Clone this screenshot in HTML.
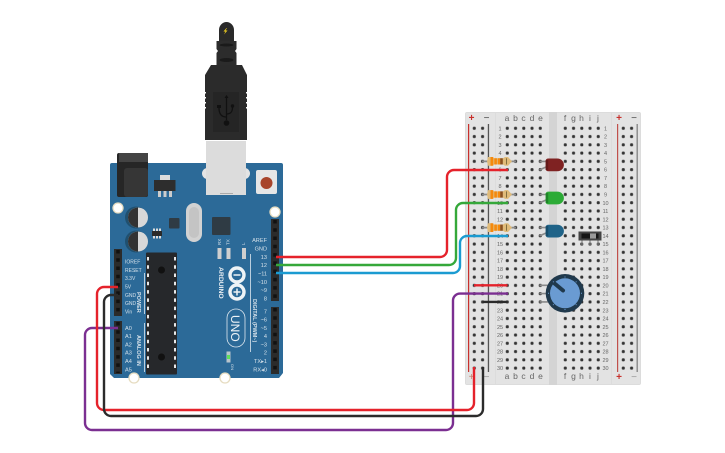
<!DOCTYPE html>
<html><head><meta charset="utf-8"><style>
html,body{margin:0;padding:0;background:#fff}
svg{display:block;filter:blur(.3px)}
text{font-family:"Liberation Sans",sans-serif}
.n text{font-size:5.5px;fill:#666;text-anchor:middle}
.l text{font-size:8.5px;fill:#666;text-anchor:middle}
.pl text{font-size:5px;fill:#d4e0e9;text-anchor:start}
.pr text{font-size:5.6px;fill:#d4e0e9;text-anchor:end}
.w{fill:none;stroke-width:2.4;stroke-linejoin:round}
</style></head><body>
<svg width="725" height="453" viewBox="0 0 725 453" xmlns="http://www.w3.org/2000/svg">
<defs>
<pattern id="hl" x="470.2" y="124.2" width="8.27" height="8.27" patternUnits="userSpaceOnUse"><rect x="2.6" y="2.6" width="3" height="3" rx="1" fill="#333"/></pattern>
<pattern id="hr" x="619.2" y="124.2" width="8.27" height="8.27" patternUnits="userSpaceOnUse"><rect x="2.6" y="2.6" width="3" height="3" rx="1" fill="#333"/></pattern>
<pattern id="hm" x="503.2" y="124.2" width="8.24" height="8.27" patternUnits="userSpaceOnUse"><rect x="2.6" y="2.6" width="3" height="3" rx="1" fill="#333"/></pattern>
<pattern id="hn" x="561.2" y="124.2" width="8.24" height="8.27" patternUnits="userSpaceOnUse"><rect x="2.6" y="2.6" width="3" height="3" rx="1" fill="#333"/></pattern>
</defs>

<!-- breadboard -->
<rect x="465" y="112" width="176" height="273" rx="2" fill="#dcdcdc"/>
<rect x="466" y="113" width="29" height="271" fill="#e3e3e3"/>
<rect x="496" y="113" width="54" height="271" fill="#e3e3e3"/>
<rect x="556" y="113" width="55" height="271" fill="#e3e3e3"/>
<rect x="612" y="113" width="28" height="271" fill="#e3e3e3"/>
<rect x="549" y="112" width="8" height="273" fill="#d4d4d4"/>
<rect x="468" y="124" width="1.2" height="248" fill="#c8302c"/>
<rect x="487.800" y="124" width="1.300" height="248" fill="#555"/>
<rect x="617" y="124" width="1.200" height="248" fill="#c0504c"/>
<rect x="636.500" y="124" width="1.400" height="248" fill="#888"/>
<rect x="470.2" y="124.2" width="16.6" height="248" fill="url(#hl)"/>
<rect x="619.2" y="124.2" width="16.6" height="248" fill="url(#hr)"/>
<rect x="503.2" y="124.2" width="41.2" height="248" fill="url(#hm)"/>
<rect x="561.2" y="124.2" width="41.2" height="248" fill="url(#hn)"/>

<g class="l">
<text x="471.5" y="121" style="fill:#c8302c;font-size:10px;font-weight:bold">+</text><text x="486.5" y="121" style="fill:#444;font-size:10px">−</text>
<text x="619" y="121" style="fill:#c8302c;font-size:10px;font-weight:bold">+</text><text x="634" y="121" style="fill:#444;font-size:10px">−</text>
<text x="471.5" y="380" style="fill:#c8806c;font-size:10px">+</text><text x="486.5" y="380" style="fill:#999;font-size:10px">−</text>
<text x="619" y="380" style="fill:#c8302c;font-size:10px;font-weight:bold">+</text><text x="634" y="380" style="fill:#999;font-size:10px">−</text>
<text x="507" y="121">a</text><text x="515.5" y="121">b</text><text x="523.5" y="121">c</text><text x="532" y="121">d</text><text x="540.5" y="121">e</text>
<text x="565" y="121">f</text><text x="573.5" y="121">g</text><text x="581.5" y="121">h</text><text x="590" y="121">i</text><text x="598" y="121">j</text>
<text x="507" y="379">a</text><text x="515.5" y="379">b</text><text x="523.5" y="379">c</text><text x="532" y="379">d</text><text x="540.5" y="379">e</text>
<text x="565" y="379">f</text><text x="573.5" y="379">g</text><text x="581.5" y="379">h</text><text x="590" y="379">i</text><text x="598" y="379">j</text>
</g>
<g class="n">
<text x="500" y="130.3">1</text><text x="500" y="138.6">2</text><text x="500" y="146.9">3</text><text x="500" y="155.1">4</text><text x="500" y="163.4">5</text><text x="500" y="171.7">6</text><text x="500" y="180">7</text><text x="500" y="188.2">8</text><text x="500" y="196.5">9</text><text x="500" y="204.8">10</text><text x="500" y="213">11</text><text x="500" y="221.3">12</text><text x="500" y="229.6">13</text><text x="500" y="237.8">14</text><text x="500" y="246.1">15</text><text x="500" y="254.4">16</text><text x="500" y="262.6">17</text><text x="500" y="270.9">18</text><text x="500" y="279.2">19</text><text x="500" y="287.5">20</text><text x="500" y="295.7">21</text><text x="500" y="304">22</text><text x="500" y="312.3">23</text><text x="500" y="320.5">24</text><text x="500" y="328.8">25</text><text x="500" y="337.1">26</text><text x="500" y="345.4">27</text><text x="500" y="353.6">28</text><text x="500" y="361.9">29</text><text x="500" y="370.2">30</text>
<text x="605.5" y="130.3">1</text><text x="605.5" y="138.6">2</text><text x="605.5" y="146.9">3</text><text x="605.5" y="155.1">4</text><text x="605.5" y="163.4">5</text><text x="605.5" y="171.7">6</text><text x="605.5" y="180">7</text><text x="605.5" y="188.2">8</text><text x="605.5" y="196.5">9</text><text x="605.5" y="204.8">10</text><text x="605.5" y="213">11</text><text x="605.5" y="221.3">12</text><text x="605.5" y="229.6">13</text><text x="605.5" y="237.8">14</text><text x="605.5" y="246.1">15</text><text x="605.5" y="254.4">16</text><text x="605.5" y="262.6">17</text><text x="605.5" y="270.9">18</text><text x="605.5" y="279.2">19</text><text x="605.5" y="287.5">20</text><text x="605.5" y="295.7">21</text><text x="605.5" y="304">22</text><text x="605.5" y="312.3">23</text><text x="605.5" y="320.5">24</text><text x="605.5" y="328.8">25</text><text x="605.5" y="337.1">26</text><text x="605.5" y="345.4">27</text><text x="605.5" y="353.6">28</text><text x="605.5" y="361.9">29</text><text x="605.5" y="370.2">30</text>
</g>

<!-- resistors -->
<path d="M482 161.4H516M482 194.5H516M482 227.6H516" stroke="#8a8a8a" stroke-width="1.8"/>
<path d="M488 157h4l2 1.300h9l2-1.300h3l4 4.400-4 4.400h-3l-2-1.300h-9l-2 1.300h-4l-1-4.400z" fill="#e0bb7a"/>
<path d="M488 190.100h4l2 1.300h9l2-1.300h3l4 4.400-4 4.400h-3l-2-1.300h-9l-2 1.300h-4l-1-4.400z" fill="#e0bb7a"/>
<path d="M488 223.200h4l2 1.300h9l2-1.300h3l4 4.400-4 4.400h-3l-2-1.300h-9l-2 1.300h-4l-1-4.400z" fill="#e0bb7a"/>
<path d="M490.500 157h2.800v8.800h-2.800zM494.300 158.300h2.600v6.200h-2.600zM497.800 158.300h2.400v6.200h-2.400z" fill="#f5890d"/>
<path d="M490.500 190.100h2.800v8.800h-2.800zM494.300 191.400h2.600v6.200h-2.600zM497.800 191.400h2.400v6.200h-2.400z" fill="#f5890d"/>
<path d="M490.500 223.200h2.800v8.800h-2.800zM494.300 224.500h2.600v6.200h-2.600zM497.800 224.500h2.400v6.200h-2.400z" fill="#f5890d"/>
<path d="M500.200 158.300h2.600v6.200h-2.600zM500.200 191.400h2.600v6.200h-2.600zM500.200 224.500h2.600v6.200h-2.600z" fill="#8a5020"/>
<path d="M506 158.300h.8v6.200H506zM506 191.400h.8v6.200H506zM506 224.500h.8v6.200H506z" fill="#6b5a30"/>

<!-- LEDs -->
<path d="M539.500 161.400H546M539.500 170l6.500-3M539.500 194.500H546M539.500 203l6.500-3M539.500 227.600H546M539.500 236l6.500-3" stroke="#8a8a8a" stroke-width="1.600" fill="none"/>
<path d="M548 158.500h9.500a6.400 6.400 0 0 1 0 12.800H548a2.500 2.500 0 0 1-2.300-2.500v-7.800a2.500 2.500 0 0 1 2.300-2.500z" fill="#7f2222"/>
<path d="M548 191.600h9.500a6.400 6.400 0 0 1 0 12.800H548a2.500 2.500 0 0 1-2.300-2.500v-7.800a2.500 2.500 0 0 1 2.300-2.500z" fill="#2cab36"/>
<path d="M548 224.700h9.500a6.400 6.400 0 0 1 0 12.800H548a2.500 2.500 0 0 1-2.300-2.500v-7.800a2.500 2.500 0 0 1 2.300-2.500z" fill="#1f6388"/>
<rect x="545.700" y="160" width="2.500" height="10" fill="#651a1a"/>
<rect x="545.700" y="193" width="2.500" height="10" fill="#1f8428"/>
<rect x="545.700" y="226" width="2.500" height="10" fill="#174e6c"/>

<!-- switch -->
<path d="M582 240v5M590 240v5M598 240v5" stroke="#888" stroke-width="1.200"/>
<rect x="578.500" y="231.500" width="23" height="9" fill="#444"/>
<rect x="581.500" y="233.500" width="17" height="5" fill="#151515"/>
<rect x="590" y="233.500" width="6" height="5" fill="#9a9a9a"/>

<!-- potentiometer -->
<path d="M539.500 285.300H548M539.500 293.600H548M539.500 301.900H548" stroke="#8a8a8a" stroke-width="1.600"/>
<circle cx="565" cy="293.300" r="19.300" fill="#20394c"/>
<circle cx="565" cy="293.300" r="15" fill="#6a9bd2"/>
<path d="M554 283L563 290.500" stroke="#20394c" stroke-width="4" stroke-linecap="round"/>
<path d="M565 276.500v1M565 309v1M548 293.300h1M581 293.300h1M553 281.500l.7.7M576.500 281.500l-.7.7M553 305l.7-.7M576.500 305l-.7-.7" stroke="#6a9bd2" stroke-width="1"/>

<!-- arduino board -->
<path d="M112 163H281a2 2 0 0 1 2 2V373l-4 5H114l-4-4V165a2 2 0 0 1 2-2z" fill="#2c6a98"/>
<!-- USB port -->
<rect x="202" y="168" width="48" height="11" rx="5.500" fill="#e4e4e4"/>
<rect x="206" y="141" width="40" height="54" fill="#dcdcdc"/>
<rect x="220" y="193" width="13" height="1" fill="#aaa"/>
<!-- DC jack -->
<rect x="117" y="153" width="31" height="44" rx="2" fill="#262626"/>
<rect x="119" y="153" width="29" height="9" fill="#444"/>
<rect x="124" y="168" width="24" height="29" rx="3" fill="#363636"/>
<!-- reset -->
<rect x="256" y="170" width="21" height="24" rx="2" fill="#e6e6e6"/>
<circle cx="266.500" cy="183" r="6" fill="#a8452b"/>
<!-- regulator -->
<rect x="160" y="175" width="10" height="6" fill="#ddd"/>
<rect x="154" y="180" width="21.500" height="11" fill="#2d2d2d"/>
<path d="M158 191h3v6h-3zM163.500 191h3v6h-3zM169 191h3v6h-3z" fill="#ccc"/>
<!-- holes -->
<circle cx="118" cy="208" r="5" fill="#fff" stroke="#e6dcc0" stroke-width="1.300"/>
<circle cx="275" cy="212" r="5" fill="#fff" stroke="#e6dcc0" stroke-width="1.300"/>
<circle cx="134" cy="378" r="5" fill="#fff" stroke="#e6dcc0" stroke-width="1.300"/>
<circle cx="225" cy="378" r="5" fill="#fff" stroke="#e6dcc0" stroke-width="1.300"/>
<!-- caps -->
<circle cx="136" cy="217.500" r="11" fill="#20506f"/>
<circle cx="138" cy="217.500" r="10" fill="#d8d8d8"/>
<path d="M138 207.500a10 10 0 0 0 0 20z" fill="#333"/>
<circle cx="136" cy="241.500" r="11" fill="#20506f"/>
<circle cx="138" cy="241.500" r="10" fill="#d8d8d8"/>
<path d="M138 231.500a10 10 0 0 0 0 20z" fill="#333"/>
<!-- crystal -->
<rect x="186" y="203" width="16" height="39" rx="8" fill="#d2d2d2"/>
<rect x="189" y="207" width="10" height="31" rx="5" fill="#c4c4c4"/>
<!-- small chips -->
<rect x="169" y="218" width="10.500" height="10.500" rx="1" fill="#2f3b44"/>
<rect x="212" y="217" width="18.500" height="18" rx="1" fill="#2f3b44"/>
<rect x="152" y="231" width="10" height="5" fill="#2a2a2a"/>
<path d="M153 228.500h2v2.500h-2zM156 228.500h2v2.500h-2zM159 228.500h2v2.500h-2z" fill="#ddd"/>
<path d="M153 236h2v2.500h-2zM156 236h2v2.500h-2zM159 236h2v2.500h-2z" fill="#ddd"/>
<!-- LEDs on board -->
<rect x="217.500" y="248" width="4" height="11" fill="#cfcfcf"/>
<rect x="226.500" y="248" width="4" height="11" fill="#cfcfcf"/>
<rect x="242" y="248" width="4" height="11" fill="#cfcfcf"/>
<text transform="translate(221,245) rotate(-90)" font-size="4.500" fill="#d4e0e9">RX</text>
<text transform="translate(229.500,245) rotate(-90)" font-size="4.500" fill="#d4e0e9">TX</text>
<text transform="translate(245,245) rotate(-90)" font-size="4.500" fill="#d4e0e9">L</text>
<!-- ATmega -->
<rect x="146" y="252.500" width="31" height="122" rx="1" fill="#26282b"/>
<path d="M148 257v114M175 257v114" stroke="#e8e8e8" stroke-width="2" stroke-dasharray="3.500 4.770"/>
<circle cx="161.500" cy="270" r="3.500" fill="#111"/>
<circle cx="161.500" cy="357" r="3.500" fill="#111"/>
<!-- headers -->
<rect x="271" y="219" width="8" height="82" fill="#2b2b2b"/>
<rect x="271" y="307" width="8" height="67" fill="#2b2b2b"/>
<rect x="114" y="249" width="8" height="67" fill="#2b2b2b"/>
<rect x="114" y="321" width="8" height="53" fill="#2b2b2b"/>
<path d="M275 220v80M275 308v65" stroke="#111" stroke-width="3.500" stroke-dasharray="3.500 4.770"/>
<path d="M118 250v65M118 322v51" stroke="#111" stroke-width="3.500" stroke-dasharray="3.500 4.770"/>
<!-- labels -->
<g class="pr">
<text x="267" y="242">AREF</text><text x="267" y="250.500">GND</text><text x="267" y="259">13</text><text x="267" y="267">12</text><text x="267" y="275.500">~11</text><text x="267" y="284">~10</text><text x="267" y="292">~9</text><text x="267" y="300.500">8</text>
<text x="267" y="313.500">7</text><text x="267" y="321.500">~6</text><text x="267" y="330">~5</text><text x="267" y="338">4</text><text x="267" y="346.500">~3</text><text x="267" y="354.500">2</text><text x="267" y="363">TX▸1</text><text x="267" y="371.500">RX◂0</text>
</g>
<g class="pl">
<text x="125" y="263.500">IOREF</text><text x="125" y="271.800">RESET</text><text x="125" y="280">3.3V</text><text x="125" y="288.500">5V</text><text x="125" y="297">GND</text><text x="125" y="305">GND</text><text x="125" y="313.500">Vin</text>
<text x="125" y="330" style="font-size:5.600px">A0</text><text x="125" y="338" style="font-size:5.600px">A1</text><text x="125" y="346.500" style="font-size:5.600px">A2</text><text x="125" y="354.500" style="font-size:5.600px">A3</text><text x="125" y="363" style="font-size:5.600px">A4</text><text x="125" y="371.500" style="font-size:5.600px">A5</text>
</g>
<path d="M250.500 254v98M144.500 273v41M144.500 323v49" stroke="#dfe8ef" stroke-width="0.800"/>
<text transform="translate(137,292) rotate(90)" font-size="5.500" font-weight="bold" fill="#d4e0e9">POWER</text>
<text transform="translate(137,335) rotate(90)" font-size="5.500" font-weight="bold" fill="#d4e0e9">ANALOG IN</text>
<text transform="translate(253,299) rotate(90)" font-size="5.500" font-weight="bold" fill="#d4e0e9">DIGITAL (PWM~)</text>
<text transform="translate(219,267) rotate(90)" font-size="6.800" font-weight="bold" fill="#e8eef3">ARDUINO</text>
<!-- infinity logo -->
<circle cx="237" cy="275" r="7" fill="none" stroke="#eef3f6" stroke-width="3.400"/>
<circle cx="237" cy="292" r="7" fill="none" stroke="#eef3f6" stroke-width="3.400"/>
<path d="M233.500 275h7M233.500 292h7M237 288.500v7" stroke="#eef3f6" stroke-width="1.500"/>
<rect x="227" y="309" width="18" height="38" rx="9" fill="none" stroke="#dfe8ef" stroke-width="0.800"/>
<text transform="translate(231,315) rotate(90)" font-size="12" fill="#eef3f6">UNO</text>
<!-- ON LED -->
<rect x="226.500" y="351.500" width="4" height="11" fill="#b8c4cc"/>
<rect x="227" y="355" width="3" height="4" fill="#5fe05a"/>
<text transform="translate(231,364) rotate(90)" font-size="4" fill="#d4e0e9">ON</text>

<!-- wires -->
<path class="w" stroke="#e5222b" d="M276 257H440a7 7 0 0 0 7-7V177a7 7 0 0 1 7-7H508"/>
<path class="w" stroke="#35a83a" d="M276 265H449a7 7 0 0 0 7-7V210a7 7 0 0 1 7-7H508"/>
<path class="w" stroke="#1b9bd1" d="M276 273H453a7 7 0 0 0 7-7V243a7 7 0 0 1 7-7H508"/>
<path class="w" stroke="#e5222b" d="M474 285.300H507.500"/>
<path class="w" stroke="#2b2b2b" d="M483 301.900H507.500"/>
<path class="w" stroke="#7b2f91" d="M508 293.600H460a7 7 0 0 0-7 7V423a7 7 0 0 1-7 7H92a7 7 0 0 1-7-7V335a7 7 0 0 1 7-7H118"/>
<path class="w" stroke="#e5222b" d="M118 287H104a7 7 0 0 0-7 7V403a7 7 0 0 0 7 7H467a7 7 0 0 0 7-7V367"/>
<path class="w" stroke="#2b2b2b" d="M118 295H111a7 7 0 0 0-7 7V409a7 7 0 0 0 7 7H476a7 7 0 0 0 7-7V367"/>

<!-- USB plug -->
<path d="M219 42V30a7.500 8 0 0 1 15 0V42z" fill="#2a2a2a"/>
<path d="M216.500 41h20v8l-1.500 2 1.500 2v12h-20V53l1.500-2-1.500-2z" fill="#2c2c2c"/>
<ellipse cx="226.500" cy="45" rx="7" ry="1.500" fill="#1a1a1a"/>
<ellipse cx="226.500" cy="60" rx="7" ry="2" fill="#1a1a1a"/>
<path d="M211 65H242L247 75V140H205V75z" fill="#2b2b2b"/>
<path d="M205 92h1v1.500h-1zM205 97h1v1.500h-1zM205 102h1v1.500h-1zM205 107h1v1.500h-1zM246 92h1v1.500h-1zM246 97h1v1.500h-1zM246 102h1v1.500h-1zM246 107h1v1.500h-1z" fill="#fff"/>
<rect x="213" y="92" width="26" height="40" fill="#252525"/>
<path d="M226.500 28l-3 3.500h2l-1.500 3 3.500-4h-2l1.500-2.500z" fill="#f4d21f"/>
<path d="M226.500 96v24M226.500 117c-6 0-7.500-4-7.500-9M226.500 114c5 0 6-3 6-7" stroke="#111" stroke-width="1.300" fill="none"/>
<path d="M226.500 95l-2 3h4z" fill="#111"/>
<circle cx="226.500" cy="123" r="2.800" fill="#111"/>
<rect x="217" y="105" width="4" height="3" fill="#111"/>
<circle cx="232.500" cy="106" r="1.700" fill="#111"/>
</svg>
</body></html>
